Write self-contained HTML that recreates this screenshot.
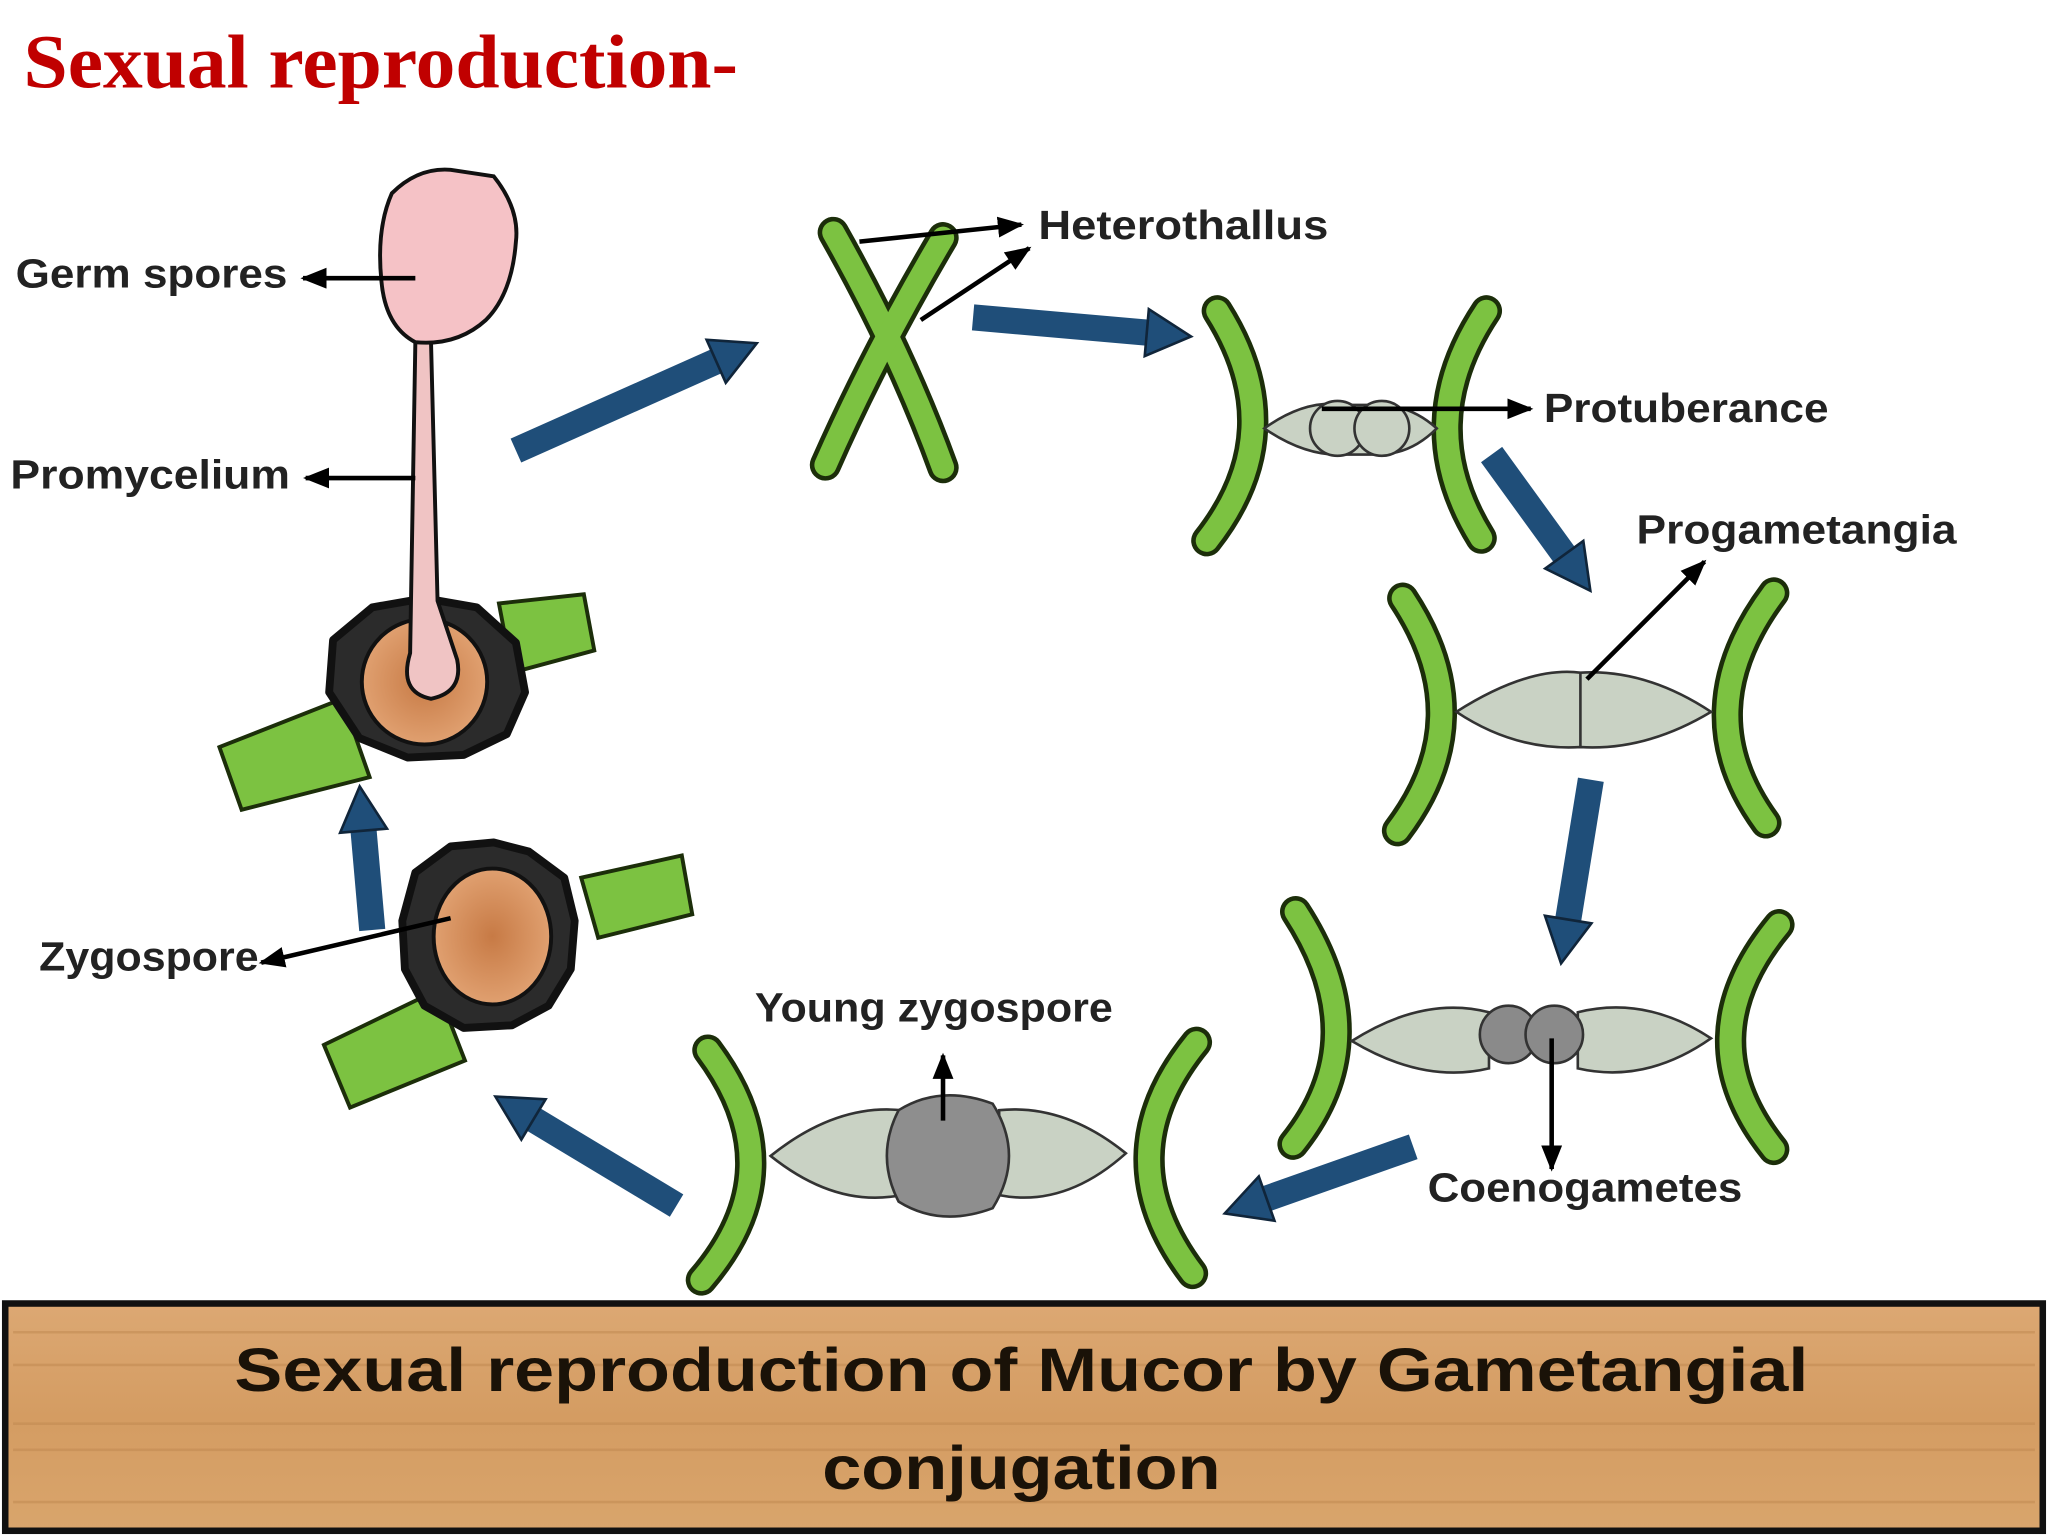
<!DOCTYPE html>
<html><head><meta charset="utf-8"><style>html,body{margin:0;padding:0;background:#fff}svg{display:block}</style></head><body>
<svg width="2048" height="1536" viewBox="0 0 1568 1176" xmlns="http://www.w3.org/2000/svg">
<defs>
<marker id="ba" markerUnits="userSpaceOnUse" markerWidth="50" markerHeight="50" refX="6" refY="20" orient="auto"><path d="M2,2 L36,20 L2,38 Z" fill="#1f4e79" stroke="#10253a" stroke-width="2"/></marker>
<marker id="sa" markerUnits="userSpaceOnUse" markerWidth="24" markerHeight="20" refX="18" refY="8" orient="auto"><path d="M0,0 L20,8 L0,16 Z" fill="#000"/></marker>
<linearGradient id="wood" x1="0" y1="0" x2="0" y2="1"><stop offset="0" stop-color="#dca873"/><stop offset="0.5" stop-color="#d49c62"/><stop offset="1" stop-color="#d9a56c"/></linearGradient>
<radialGradient id="brown"><stop offset="0" stop-color="#c77a45"/><stop offset="1" stop-color="#e0a070"/></radialGradient>
</defs>
<rect width="1568" height="1176" fill="#fff"/>
<text x="18" y="67" font-family="Liberation Serif,serif" font-weight="bold" font-size="58" fill="#c00000" textLength="547" lengthAdjust="spacingAndGlyphs">Sexual reproduction-</text>

<g stroke="#1f4e79" stroke-width="20" fill="none">
<line x1="395" y1="345" x2="552" y2="275" marker-end="url(#ba)"/>
<line x1="745" y1="243" x2="882" y2="255" marker-end="url(#ba)"/>
<line x1="1142" y1="348" x2="1200" y2="428" marker-end="url(#ba)"/>
<line x1="1218" y1="597" x2="1200" y2="708" marker-end="url(#ba)"/>
<line x1="1082" y1="878" x2="966" y2="919" marker-end="url(#ba)"/>
<line x1="518" y1="923" x2="405" y2="855" marker-end="url(#ba)"/>
<line x1="285" y1="712" x2="278" y2="632" marker-end="url(#ba)"/>
</g>

<g fill="none" stroke-linecap="round">
<g stroke="#1c2e0a" stroke-width="24">
<path d="M638,178 Q690,270 722,358"/><path d="M722,182 Q670,270 632,356"/>
<path d="M932,238 Q990,330 924,414"/><path d="M1138,238 Q1080,325 1134,412"/>
<path d="M1074,458 Q1135,550 1070,636"/><path d="M1358,454 Q1290,545 1352,630"/>
<path d="M992,698 Q1055,795 990,876"/><path d="M1362,708 Q1290,795 1358,880"/>
<path d="M542,804 Q610,895 537,980"/><path d="M916,798 Q845,885 913,975"/>
</g>
<g stroke="#7cc241" stroke-width="17">
<path d="M638,178 Q690,270 722,358"/><path d="M722,182 Q670,270 632,356"/>
<path d="M932,238 Q990,330 924,414"/><path d="M1138,238 Q1080,325 1134,412"/>
<path d="M1074,458 Q1135,550 1070,636"/><path d="M1358,454 Q1290,545 1352,630"/>
<path d="M992,698 Q1055,795 990,876"/><path d="M1362,708 Q1290,795 1358,880"/>
<path d="M542,804 Q610,895 537,980"/><path d="M916,798 Q845,885 913,975"/>
</g>
</g>

<g stroke="#333" stroke-width="2" fill="#c9d2c4">
<path d="M968,328 Q1000,305 1030,310 L1055,310 Q1080,310 1100,328 Q1080,348 1055,348 L1030,348 Q1000,350 968,328Z"/>
<circle cx="1024" cy="328" r="21"/><circle cx="1058" cy="328" r="21"/>
<path d="M1115,545 Q1170,510 1210,515 Q1260,512 1310,545 Q1260,575 1210,572 Q1160,575 1115,545Z"/>
<line x1="1210" y1="515" x2="1210" y2="572"/>
<path d="M1035,797 Q1090,762 1140,775 L1140,818 Q1090,830 1035,797Z"/>
<path d="M1310,795 Q1260,762 1208,775 L1208,818 Q1260,830 1310,795Z"/>
<circle cx="1155" cy="792" r="22" fill="#8a8a8a"/><circle cx="1190" cy="792" r="22" fill="#8a8a8a"/>
<path d="M590,885 Q640,845 690,850 L690,915 Q640,925 590,885Z"/>
<path d="M862,883 Q815,845 765,850 L765,915 Q815,925 862,883Z"/>
<path d="M688,850 Q720,830 760,845 Q785,885 760,925 Q720,940 688,920 Q670,885 688,850Z" fill="#8e8e8e"/>
</g>

<g stroke="#1c2e0a" stroke-width="3" fill="#7cc241">
<path d="M445,672 L522,655 L530,700 L458,718Z"/>
<path d="M248,800 L335,758 L356,812 L268,848Z"/>
<path d="M382,462 L447,455 L455,498 L392,515Z"/>
<path d="M168,572 L262,535 L283,595 L185,620Z"/>
</g>
<path d="M318,668 L345,648 L378,645 L405,652 L432,672 L440,705 L437,742 L420,770 L392,785 L355,787 L325,770 L310,742 L308,705Z" fill="#2b2b2b" stroke="#111" stroke-width="6" stroke-linejoin="round"/>
<ellipse cx="377" cy="717" rx="45" ry="52" fill="url(#brown)" stroke="#111" stroke-width="3"/>
<path d="M255,490 L285,465 L325,458 L365,465 L395,492 L402,530 L388,562 L355,578 L312,580 L275,565 L252,530Z" fill="#2b2b2b" stroke="#111" stroke-width="6" stroke-linejoin="round"/>
<circle cx="325" cy="522" r="48" fill="url(#brown)" stroke="#111" stroke-width="3"/>
<path d="M318,262 L314,500 Q305,530 330,535 Q355,530 350,505 L335,460 L330,262Z" fill="#f0c4c4" stroke="#111" stroke-width="3"/>
<path d="M300,148 Q320,128 345,130 L378,135 Q398,160 395,185 Q392,225 372,245 Q350,265 318,262 Q295,250 292,215 Q288,175 300,148Z" fill="#f5c2c6" stroke="#111" stroke-width="3"/>

<g stroke="#000" stroke-width="3.5" fill="none">
<line x1="318" y1="213" x2="232" y2="213" marker-end="url(#sa)"/>
<line x1="318" y1="366" x2="234" y2="366" marker-end="url(#sa)"/>
<line x1="658" y1="185" x2="782" y2="172" marker-end="url(#sa)"/>
<line x1="705" y1="245" x2="788" y2="190" marker-end="url(#sa)"/>
<line x1="1012" y1="313" x2="1172" y2="313" marker-end="url(#sa)"/>
<line x1="1215" y1="520" x2="1305" y2="430" marker-end="url(#sa)"/>
<line x1="1188" y1="795" x2="1188" y2="895" marker-end="url(#sa)"/>
<line x1="722" y1="858" x2="722" y2="808" marker-end="url(#sa)"/>
<line x1="345" y1="703" x2="200" y2="737" marker-end="url(#sa)"/>
</g>
<g font-family="Liberation Sans,sans-serif" font-weight="bold" font-size="31" fill="#222" lengthAdjust="spacingAndGlyphs">
<text x="12" y="220" textLength="208" lengthAdjust="spacingAndGlyphs">Germ spores</text>
<text x="8" y="374" textLength="214" lengthAdjust="spacingAndGlyphs">Promycelium</text>
<text x="795" y="183" textLength="222" lengthAdjust="spacingAndGlyphs">Heterothallus</text>
<text x="1182" y="323" textLength="218" lengthAdjust="spacingAndGlyphs">Protuberance</text>
<text x="1253" y="416" textLength="245" lengthAdjust="spacingAndGlyphs">Progametangia</text>
<text x="578" y="782" textLength="274" lengthAdjust="spacingAndGlyphs">Young zygospore</text>
<text x="1093" y="920" textLength="241" lengthAdjust="spacingAndGlyphs">Coenogametes</text>
<text x="30" y="743" textLength="168" lengthAdjust="spacingAndGlyphs">Zygospore</text>
</g>

<rect x="4" y="998" width="1560" height="174" fill="url(#wood)" stroke="#111" stroke-width="5"/>
<g stroke="#c08850" stroke-width="2" opacity="0.5">
<line x1="10" y1="1020" x2="1558" y2="1020"/><line x1="10" y1="1045" x2="1558" y2="1045"/><line x1="10" y1="1090" x2="1558" y2="1090"/><line x1="10" y1="1110" x2="1558" y2="1110"/><line x1="10" y1="1150" x2="1558" y2="1150"/>
</g>
<g font-family="Liberation Sans,sans-serif" font-weight="bold" font-size="47" fill="#1a1208" text-anchor="middle">
<text x="782" y="1065" textLength="1205" lengthAdjust="spacingAndGlyphs">Sexual reproduction of Mucor by Gametangial</text>
<text x="782" y="1140" textLength="305" lengthAdjust="spacingAndGlyphs">conjugation</text>
</g>
</svg>
</body></html>
